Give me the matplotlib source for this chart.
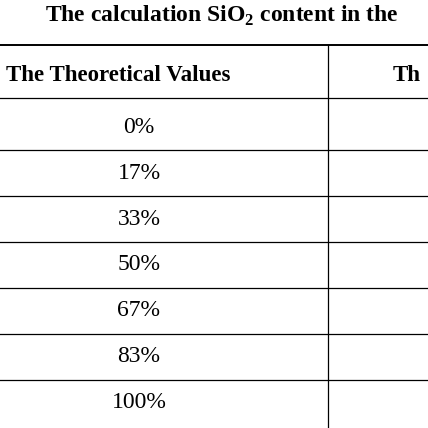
import matplotlib.pyplot as plt

# table contents (cropped view)
title = r"The calculation SiO$_\mathregular{2}$ content in the"
header = ["The Theoretical Values", "Th"]
theoretical = ["0%", "17%", "33%", "50%", "67%", "83%", "100%"]

plt.rcParams['font.family'] = ['Liberation Serif', 'DejaVu Serif']

fig = plt.figure(figsize=(4.28, 4.28), dpi=100)
ax = fig.add_axes([0, 0, 1, 1])
ax.set_xlim(0, 428)
ax.set_ylim(428, 0)
ax.axis("off")

ax.text(222, 16, title, ha="center", va="center", fontsize=17, fontweight="bold")

# rules
ax.plot([0, 428], [45, 45], color="black", lw=1.4)
ax.plot([0, 428], [98, 98], color="black", lw=0.9)
ax.plot([328, 328], [45, 428], color="black", lw=0.9)

ax.text(118, 75, header[0], ha="center", va="center", fontsize=16.5, fontweight="bold")
ax.text(393, 75, header[1], ha="left", va="center", fontsize=16.5, fontweight="bold")

row_h = 46
y0 = 127
for i, v in enumerate(theoretical):
    y = y0 + i * row_h
    ax.text(139, y, v, ha="center", va="center", fontsize=17)
    if i < len(theoretical) - 1:
        ax.plot([0, 428], [y + row_h / 2, y + row_h / 2], color="black", lw=0.9)

fig.savefig("out.png", dpi=100)
